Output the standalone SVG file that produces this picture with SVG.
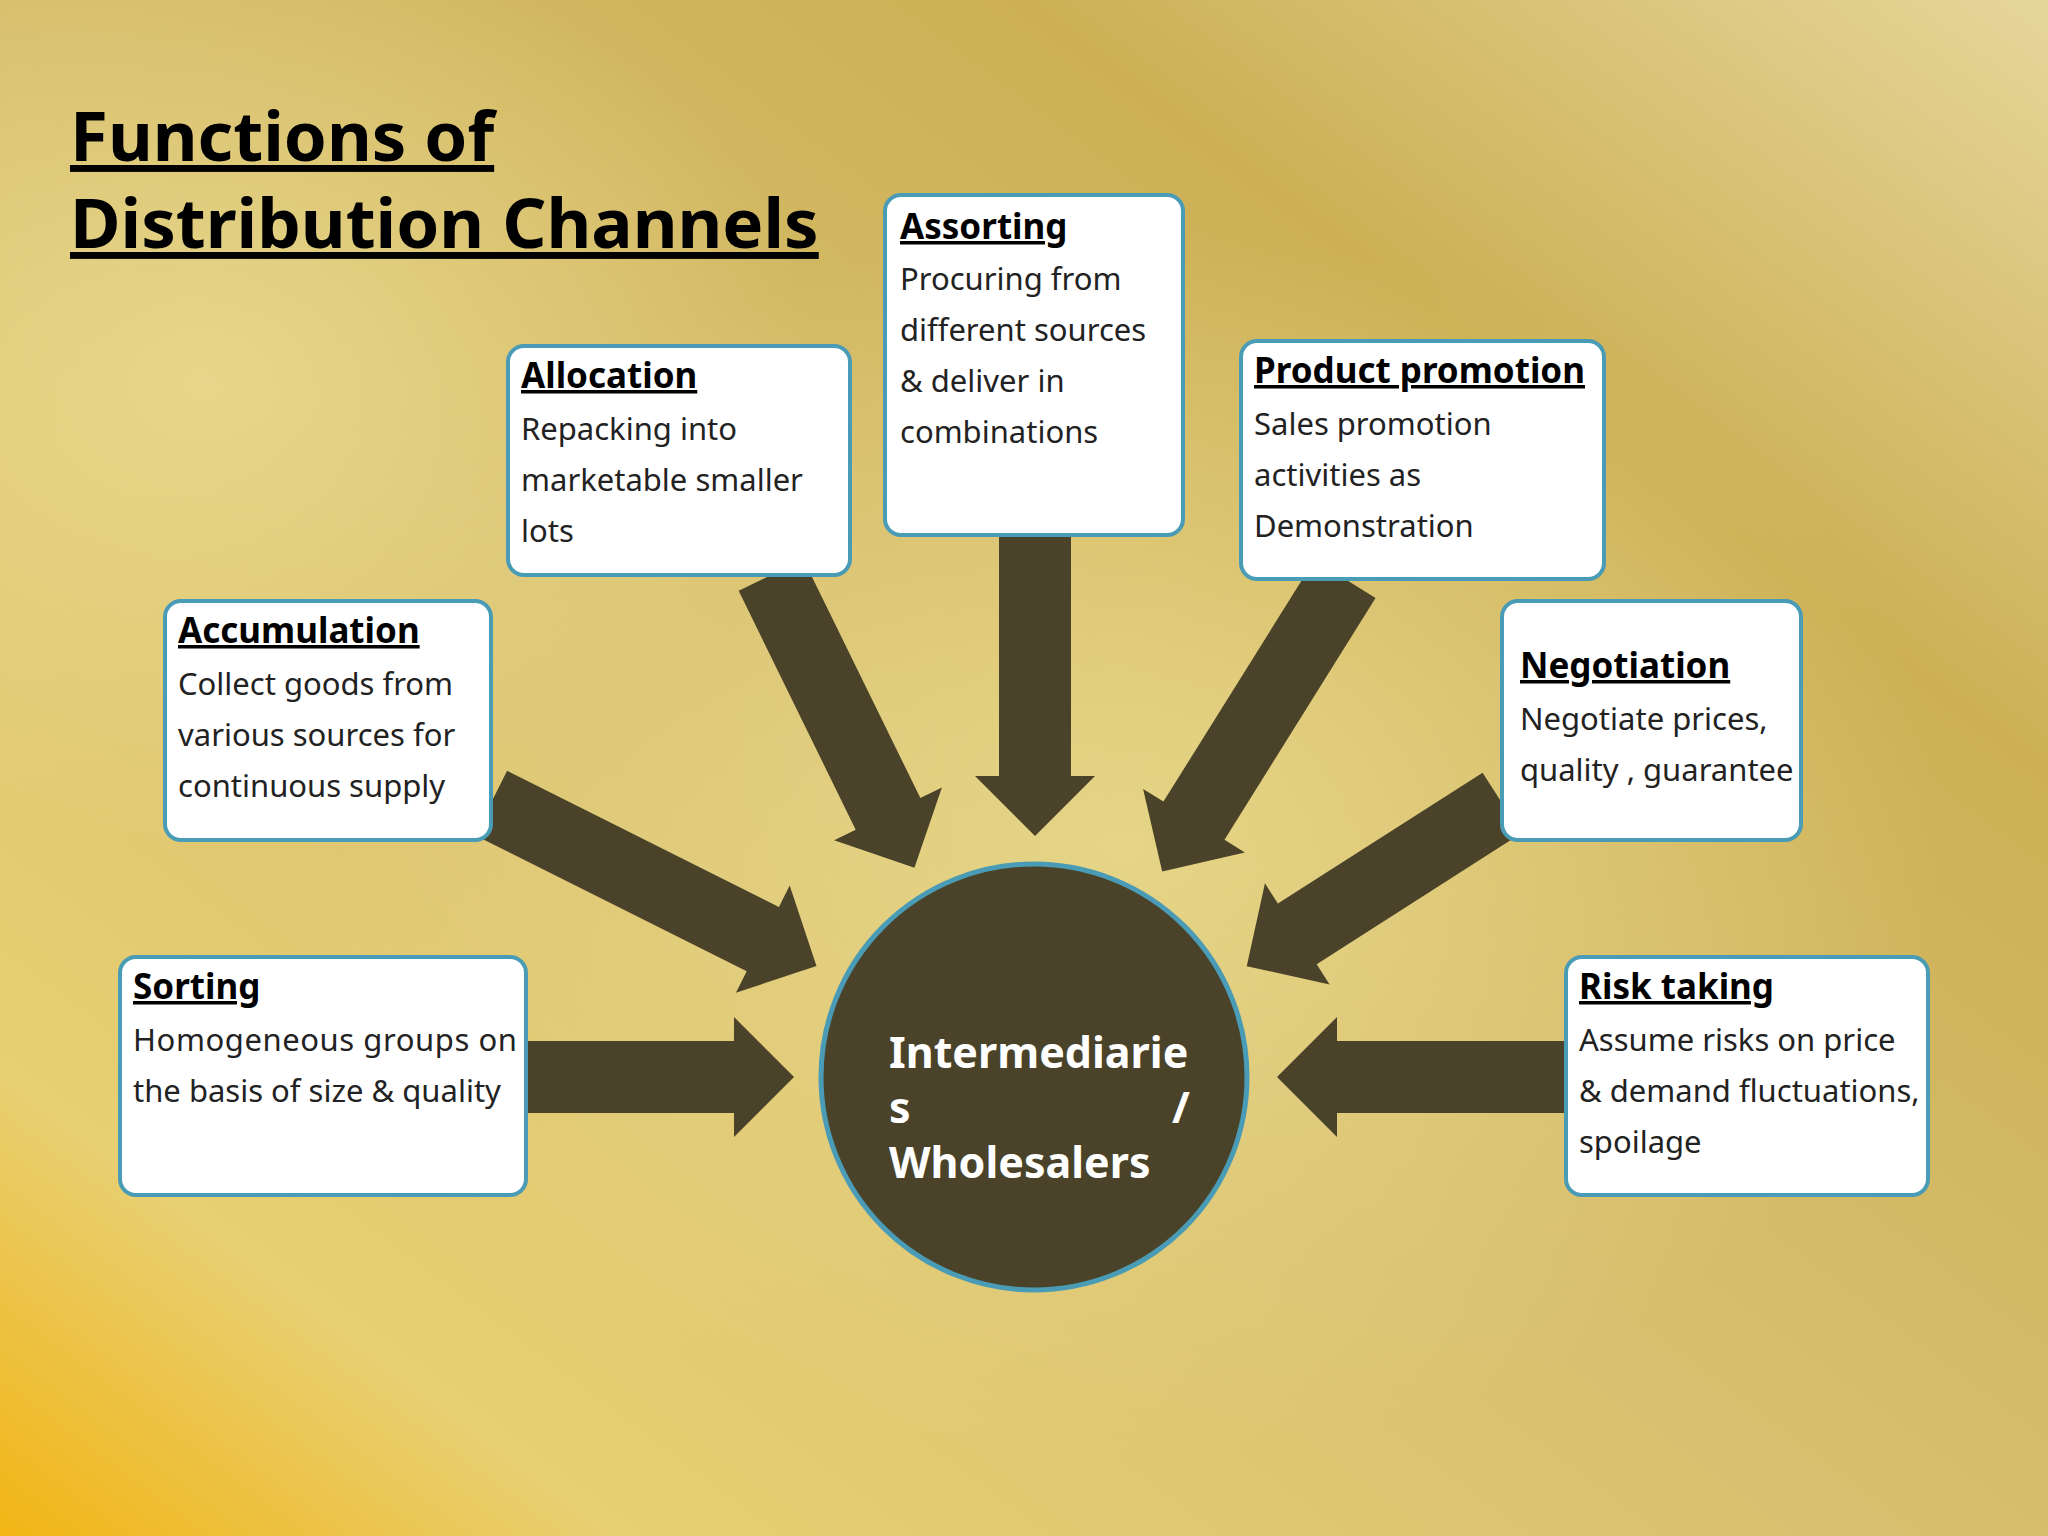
<svg xmlns="http://www.w3.org/2000/svg" width="2048" height="1536" viewBox="0 0 2048 1536">
<defs>
<linearGradient id="bg" x1="0" y1="1" x2="1" y2="0">
<stop offset="0" stop-color="#f2b514"/>
<stop offset="0.15" stop-color="#e8cf72"/>
<stop offset="0.45" stop-color="#d8c070"/>
<stop offset="0.75" stop-color="#cdb055"/>
<stop offset="1" stop-color="#e6d69a"/>
</linearGradient>
<radialGradient id="glow1" cx="0.55" cy="0.55" r="0.4">
<stop offset="0" stop-color="#eadb8e" stop-opacity="0.8"/>
<stop offset="1" stop-color="#eadb8e" stop-opacity="0"/>
</radialGradient>
<radialGradient id="glow2" cx="0.1" cy="0.25" r="0.3">
<stop offset="0" stop-color="#ebdc90" stop-opacity="0.8"/>
<stop offset="1" stop-color="#ebdc90" stop-opacity="0"/>
</radialGradient>
<style>
.box{fill:#fff;stroke:#4a9bb5;stroke-width:4}
.arr{fill:#4a4329}
.h{font-family:"Noto Sans","DejaVu Sans",sans-serif;font-weight:bold;font-size:35px;text-decoration:underline;fill:#000}
.t{font-family:"Noto Sans","DejaVu Sans",sans-serif;font-size:31px;fill:#222}
.ttl{font-family:"Noto Sans","DejaVu Sans",sans-serif;font-weight:bold;font-size:69px;text-decoration:underline;fill:#000}
.c{font-family:"Noto Sans","DejaVu Sans",sans-serif;font-weight:bold;font-size:43px;fill:#fff}
</style>
</defs>
<rect width="2048" height="1536" fill="url(#bg)"/>
<rect width="2048" height="1536" fill="url(#glow1)"/>
<rect width="2048" height="1536" fill="url(#glow2)"/>
<g id="title">
<text class="ttl" x="70" y="161">Functions of</text>
<text class="ttl" x="70" y="248">Distribution Channels</text>
</g>
<g id="connectors">
<path class="arr" transform="translate(1035,535) rotate(90)" d="M0,-36 L241,-36 L241,-60 L301,0 L241,60 L241,36 L0,36 Z"/>
<path class="arr" transform="translate(771,575) rotate(63.9)" d="M0,-36 L266,-36 L266,-60 L326,0 L266,60 L266,36 L0,36 Z"/>
<path class="arr" transform="translate(1345,579) rotate(122)" d="M0,-36 L285,-36 L285,-60 L345,0 L285,60 L285,36 L0,36 Z"/>
<path class="arr" transform="translate(491,803) rotate(26.6)" d="M0,-36 L304,-36 L304,-60 L364,0 L304,60 L304,36 L0,36 Z"/>
<path class="arr" transform="translate(1502,803) rotate(147.4)" d="M0,-36 L243,-36 L243,-60 L303,0 L243,60 L243,36 L0,36 Z"/>
<path class="arr" transform="translate(526,1077)" d="M0,-36 L208,-36 L208,-60 L268,0 L208,60 L208,36 L0,36 Z"/>
<path class="arr" transform="translate(1566,1077) rotate(180)" d="M0,-36 L229,-36 L229,-60 L289,0 L229,60 L229,36 L0,36 Z"/>
</g>
<g id="center">
<circle cx="1034" cy="1077" r="213" fill="#4a4329" stroke="#4a9bb5" stroke-width="5"/>
<text class="c" x="889" y="1068">Intermediarie</text>
<text class="c" x="889" y="1123">s</text>
<text class="c" x="1172" y="1123">/</text>
<text class="c" x="889" y="1178">Wholesalers</text>
</g>
<g id="assorting">
<rect class="box" x="885" y="195" width="298" height="340" rx="16"/>
<text class="h" x="900" y="239">Assorting</text>
<text class="t" x="900" y="290">Procuring from</text>
<text class="t" x="900" y="341">different sources</text>
<text class="t" x="900" y="392">&amp; deliver in</text>
<text class="t" x="900" y="443">combinations</text>
</g>
<g id="allocation">
<rect class="box" x="508" y="346" width="342" height="229" rx="16"/>
<text class="h" x="521" y="388">Allocation</text>
<text class="t" x="521" y="440">Repacking into</text>
<text class="t" x="521" y="491">marketable smaller</text>
<text class="t" x="521" y="542">lots</text>
</g>
<g id="product-promotion">
<rect class="box" x="1241" y="341" width="363" height="238" rx="16"/>
<text class="h" x="1254" y="383">Product promotion</text>
<text class="t" x="1254" y="435">Sales promotion</text>
<text class="t" x="1254" y="486">activities as</text>
<text class="t" x="1254" y="537">Demonstration</text>
</g>
<g id="accumulation">
<rect class="box" x="165" y="601" width="326" height="239" rx="16"/>
<text class="h" x="178" y="643">Accumulation</text>
<text class="t" x="178" y="695">Collect goods from</text>
<text class="t" x="178" y="746">various sources for</text>
<text class="t" x="178" y="797">continuous supply</text>
</g>
<g id="negotiation">
<rect class="box" x="1502" y="601" width="299" height="239" rx="16"/>
<text class="h" x="1520" y="678">Negotiation</text>
<text class="t" x="1520" y="730">Negotiate prices,</text>
<text class="t" x="1520" y="781">quality , guarantee</text>
</g>
<g id="sorting">
<rect class="box" x="120" y="957" width="406" height="238" rx="16"/>
<text class="h" x="133" y="999">Sorting</text>
<text class="t" x="133" y="1051" textLength="384" lengthAdjust="spacing">Homogeneous  groups  on</text>
<text class="t" x="133" y="1102">the basis of size &amp; quality</text>
</g>
<g id="risk-taking">
<rect class="box" x="1566" y="957" width="362" height="238" rx="16"/>
<text class="h" x="1579" y="999">Risk taking</text>
<text class="t" x="1579" y="1051">Assume risks on price</text>
<text class="t" x="1579" y="1102">&amp; demand fluctuations,</text>
<text class="t" x="1579" y="1153">spoilage</text>
</g>
</svg>
